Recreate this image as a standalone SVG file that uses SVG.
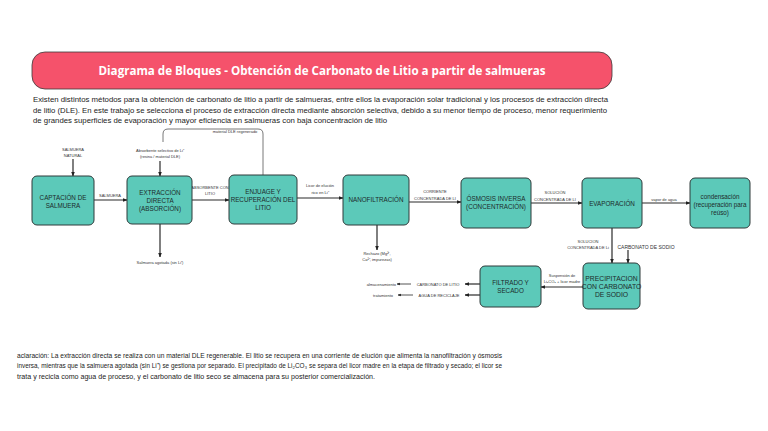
<svg xmlns="http://www.w3.org/2000/svg" width="768" height="431" viewBox="0 0 768 431">
<defs>
<marker id="ah" viewBox="0 0 10 10" refX="9" refY="5" markerWidth="4" markerHeight="4" orient="auto-start-reverse">
<path d="M0,1 L10,5 L0,9 z" fill="#222"/>
</marker>
<style>
.node{fill:#5cc9b9;stroke:#2f3a3a;stroke-width:1}
.nt{font-family:"Liberation Sans",Arial,sans-serif;font-size:6.3px;fill:#1d2b2b;text-anchor:middle;dominant-baseline:central}
.lbl{font-family:"Liberation Sans",Arial,sans-serif;font-size:4px;fill:#333;text-anchor:middle;dominant-baseline:central}
.para{font-family:"Liberation Sans",Arial,sans-serif;font-size:7.2px;fill:#222}
.cn{fill:none;stroke:#2a2a2a;stroke-width:1.2}
.cnl{fill:none;stroke:#555;stroke-width:0.8}
</style>
</defs>
<rect width="768" height="431" fill="#ffffff"/>
<g id="title">
<rect x="32" y="52" width="580" height="37" rx="13" fill="#f5526b" stroke="#3a3a3a" stroke-width="0.8"/>
<text x="322" y="75" font-family="'Open Sans','Liberation Sans',sans-serif" font-size="13" font-weight="bold" fill="#ffffff" text-anchor="middle" textLength="447" lengthAdjust="spacingAndGlyphs">Diagrama de Bloques - Obtención de Carbonato de Litio a partir de salmueras</text>
</g>
<g id="intro">
<text class="para" x="33" y="102" textLength="575" lengthAdjust="spacingAndGlyphs">Existen distintos métodos para la obtención de carbonato de litio a partir de salmueras, entre ellos la evaporación solar tradicional y los procesos de extracción directa</text>
<text class="para" x="33" y="112.5" textLength="574" lengthAdjust="spacingAndGlyphs">de litio (DLE). En este trabajo se selecciona el proceso de extracción directa mediante absorción selectiva, debido a su menor tiempo de proceso, menor requerimiento</text>
<text class="para" x="33" y="123" textLength="354" lengthAdjust="spacingAndGlyphs">de grandes superficies de evaporación y mayor eficiencia en salmueras con baja concentración de litio</text>
</g>
<g id="connectors">
<path class="cnl" d="M263,175 V134 Q263,129 258,129 H168 Q163,129 163,134 V142"/>
<text class="lbl" x="235" y="131.5">material DLE regenerado</text>
<line class="cn" x1="73" y1="159" x2="73" y2="176" marker-end="url(#ah)"/>
<text class="lbl" x="73" y="149">SALMUERA</text>
<text class="lbl" x="73" y="155">NATURAL</text>
<line class="cn" x1="94" y1="200" x2="127" y2="200" marker-end="url(#ah)"/>
<text class="lbl" x="110" y="195">SALMUERA</text>
<line class="cn" x1="160" y1="161" x2="160" y2="176" marker-end="url(#ah)"/>
<text class="lbl" x="160" y="150">Absorbente selectivo de Li⁺</text>
<text class="lbl" x="160" y="156">(resina / material DLE)</text>
<line class="cn" x1="160" y1="224" x2="160" y2="257" marker-end="url(#ah)"/>
<text class="lbl" x="160" y="262">Salmuera agotada (sin Li⁺)</text>
<line class="cn" x1="192" y1="200" x2="229" y2="200" marker-end="url(#ah)"/>
<text class="lbl" x="210" y="187">ABSORBENTE CON</text>
<text class="lbl" x="210" y="193">LITIO</text>
<line class="cn" x1="297" y1="198" x2="343" y2="198" marker-end="url(#ah)"/>
<text class="lbl" x="320" y="185">Licor de elución</text>
<text class="lbl" x="320" y="192">rico en Li⁺</text>
<line class="cn" x1="377" y1="225" x2="377" y2="250" marker-end="url(#ah)"/>
<text class="lbl" x="377" y="253">Rechazo (Mg²⁺,</text>
<text class="lbl" x="377" y="259">Ca²⁺, impurezas)</text>
<line class="cn" x1="409" y1="202" x2="461" y2="202" marker-end="url(#ah)"/>
<text class="lbl" x="435" y="191">CORRIENTE</text>
<text class="lbl" x="435" y="198">CONCENTRADA DE LI</text>
<line class="cn" x1="531" y1="203" x2="582" y2="203" marker-end="url(#ah)"/>
<text class="lbl" x="555" y="192">SOLUCIÓN</text>
<text class="lbl" x="555" y="199">CONCENTRADA DE LI</text>
<line class="cn" x1="642" y1="203" x2="690" y2="203" marker-end="url(#ah)"/>
<text class="lbl" x="664" y="199.5">vapor de agua</text>
<line class="cn" x1="612" y1="228" x2="612" y2="263" marker-end="url(#ah)"/>
<text class="lbl" x="588" y="241">SOLUCION</text>
<text class="lbl" x="588" y="247">CONCENTRADA DE Li</text>
<line class="cn" x1="628" y1="250" x2="628" y2="263" marker-end="url(#ah)"/>
<text class="lbl" x="646" y="247" style="font-size:5px">CARBONATO DE SODIO</text>
<line class="cn" x1="583" y1="287" x2="541" y2="287" marker-end="url(#ah)"/>
<text class="lbl" x="562" y="275">Suspensión de</text>
<text class="lbl" x="562" y="281">Li₂CO₃ + licor madre</text>
<line class="cn" x1="480" y1="284" x2="465" y2="284" marker-end="url(#ah)"/>
<text class="lbl" x="438" y="284">CARBONATO DE LITIO</text>
<line class="cn" x1="411" y1="284" x2="397" y2="284" marker-end="url(#ah)" style="stroke-width:0.8"/>
<text class="lbl" x="396" y="284" style="text-anchor:end">almacenamiento</text>
<line class="cn" x1="480" y1="295" x2="465" y2="295" marker-end="url(#ah)"/>
<text class="lbl" x="439" y="295">AGUA DE RECICLAJE</text>
<line class="cn" x1="413" y1="295" x2="398" y2="295" marker-end="url(#ah)" style="stroke-width:0.8"/>
<text class="lbl" x="393" y="295" style="text-anchor:end">tratamiento</text>
</g>
<g id="captacion">
<rect class="node" x="32" y="176" width="62" height="49" rx="5"/>
<text class="nt" x="63" y="197">CAPTACIÓN DE</text>
<text class="nt" x="63" y="205">SALMUERA</text>
</g>
<g id="extraccion">
<rect class="node" x="127" y="176" width="65" height="48" rx="5"/>
<text class="nt" x="160" y="192">EXTRACCIÓN</text>
<text class="nt" x="160" y="200">DIRECTA</text>
<text class="nt" x="160" y="208">(ABSORCIÓN)</text>
</g>
<g id="enjuague">
<rect class="node" x="229" y="175" width="68" height="49" rx="5"/>
<text class="nt" x="263" y="191">ENJUAGE Y</text>
<text class="nt" x="263" y="199">RECUPERACIÓN DEL</text>
<text class="nt" x="263" y="207">LITIO</text>
</g>
<g id="nanofiltracion">
<rect class="node" x="343" y="175" width="66" height="50" rx="5"/>
<text class="nt" x="376" y="199">NANOFILTRACIÓN</text>
</g>
<g id="osmosis">
<rect class="node" x="461" y="178" width="70" height="50" rx="5"/>
<text class="nt" x="496" y="198">ÓSMOSIS INVERSA</text>
<text class="nt" x="496" y="206">(CONCENTRACIÓN)</text>
</g>
<g id="evaporacion">
<rect class="node" x="582" y="178" width="60" height="50" rx="5"/>
<text class="nt" x="612" y="203">EVAPORACIÓN</text>
</g>
<g id="condensacion">
<rect class="node" x="690" y="178" width="60" height="50" rx="5"/>
<text class="nt" x="720" y="196">condensación</text>
<text class="nt" x="720" y="204">(recuperación para</text>
<text class="nt" x="720" y="212">reúso)</text>
</g>
<g id="precipitacion">
<rect class="node" x="583" y="263" width="57" height="46" rx="5"/>
<text class="nt" x="611.5" y="278" style="font-size:6.8px">PRECIPITACION</text>
<text class="nt" x="611.5" y="286" style="font-size:6.8px">CON CARBONATO</text>
<text class="nt" x="611.5" y="294" style="font-size:6.8px">DE SODIO</text>
</g>
<g id="filtrado">
<rect class="node" x="480" y="266" width="61" height="41" rx="5"/>
<text class="nt" x="510.5" y="282">FILTRADO Y</text>
<text class="nt" x="510.5" y="290">SECADO</text>
</g>
<g id="aclaracion">
<text class="para" x="17" y="357.5" textLength="485" lengthAdjust="spacingAndGlyphs">aclaración: La extracción directa se realiza con un material DLE regenerable. El litio se recupera en una corriente de elución que alimenta la nanofiltración y ósmosis</text>
<text class="para" x="17" y="368" textLength="485" lengthAdjust="spacingAndGlyphs">inversa, mientras que la salmuera agotada (sin Li⁺) se gestiona por separado. El precipitado de Li₂CO₃ se separa del licor madre en la etapa de filtrado y secado; el licor se</text>
<text class="para" x="17" y="378.5" textLength="358" lengthAdjust="spacingAndGlyphs">trata y recicla como agua de proceso, y el carbonato de litio seco se almacena para su posterior comercialización.</text>
</g>
</svg>
